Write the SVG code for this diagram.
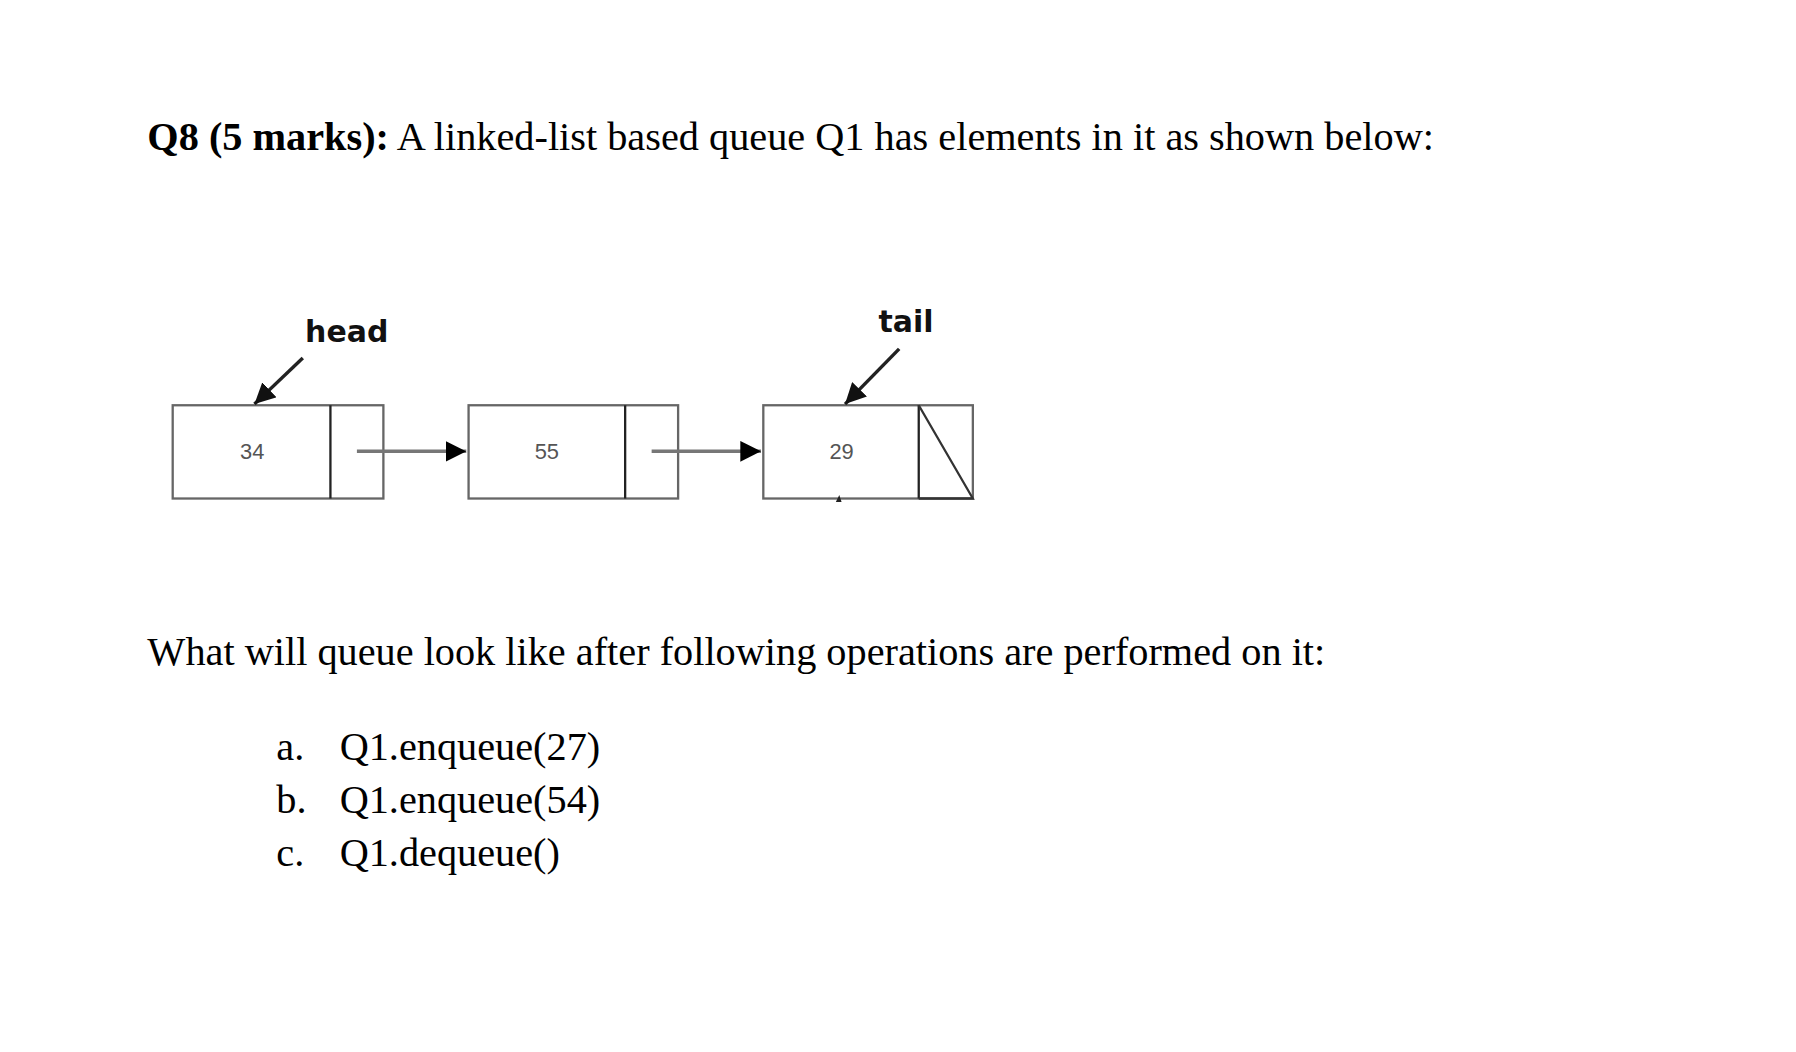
<svg xmlns="http://www.w3.org/2000/svg" width="1796" height="1052" viewBox="0 0 1796 1052">
<style>
.t{font-family:"Liberation Serif",serif;font-size:35px;fill:#000}
.lb{font-family:"DejaVu Sans","Liberation Sans",sans-serif;font-weight:bold;font-size:26px;fill:#111}
.n{font-family:"Liberation Sans",sans-serif;font-size:19px;fill:#555}
.box{fill:#fff;stroke:#666;stroke-width:2}
.dv{stroke:#222;stroke-width:2}
.ln{stroke:#777;stroke-width:3;fill:none}
.pt{stroke:#222;stroke-width:3;fill:none}
</style>
<defs>
<marker id="ah" viewBox="0 0 10 10" refX="10" refY="5" markerWidth="6" markerHeight="6" orient="auto" markerUnits="strokeWidth"><path d="M0,0L10,5L0,10z" fill="#000"/></marker>
<marker id="ap" viewBox="0 0 10 10" refX="10" refY="5" markerWidth="6" markerHeight="6" orient="auto" markerUnits="strokeWidth"><path d="M0,0L10,5L0,10z" fill="#111"/></marker>
</defs>
<rect width="1796" height="1052" fill="#fff"/>
<g transform="scale(1.1513)">
<text class="t" x="128" y="130"><tspan font-weight="bold">Q8 (5 marks):</tspan> A linked-list based queue Q1 has elements in it as shown below:</text>
<g id="head"><text class="lb" x="265" y="297">head</text></g>
<g id="tail"><text class="lb" x="763" y="288">tail</text></g>
<g id="n34"><rect class="box" x="150" y="352" width="183" height="81"/><line class="dv" x1="287" y1="352" x2="287" y2="433"/><text class="n" x="219" y="399" text-anchor="middle">34</text></g>
<g id="n55"><rect class="box" x="407" y="352" width="182" height="81"/><line class="dv" x1="543" y1="352" x2="543" y2="433"/><text class="n" x="475" y="399" text-anchor="middle">55</text></g>
<g id="n29"><rect class="box" x="663" y="352" width="182" height="81"/><line class="dv" x1="798" y1="352" x2="798" y2="433"/><path d="M798,352L845,433L798,433" fill="none" stroke="#333" stroke-width="2"/><text class="n" x="731" y="399" text-anchor="middle">29</text></g>
<g id="connectors">
<line class="ln" x1="310" y1="392" x2="405" y2="392" marker-end="url(#ah)"/>
<line class="ln" x1="566" y1="392" x2="661" y2="392" marker-end="url(#ah)"/>
<line class="pt" x1="263" y1="311" x2="221" y2="351" marker-end="url(#ap)"/>
<line class="pt" x1="781" y1="303" x2="734" y2="351" marker-end="url(#ap)"/>
<path d="M726,436L729,430L731,436z" fill="#222"/>
</g>
<text class="t" x="128" y="578">What will queue look like after following operations are performed on it:</text>
<text class="t" x="240" y="660">a.</text><text class="t" x="295" y="660">Q1.enqueue(27)</text>
<text class="t" x="240" y="706">b.</text><text class="t" x="295" y="706">Q1.enqueue(54)</text>
<text class="t" x="240" y="752">c.</text><text class="t" x="295" y="752">Q1.dequeue()</text>
</g>
</svg>
